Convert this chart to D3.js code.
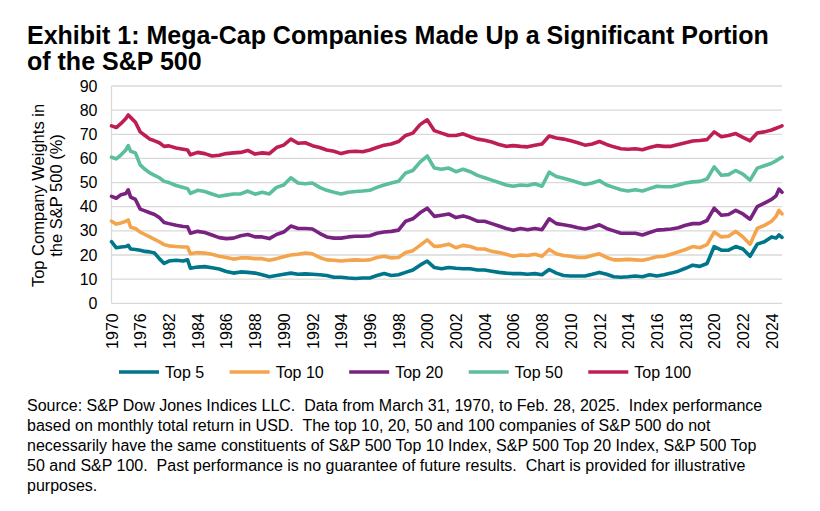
<!DOCTYPE html>
<html>
<head>
<meta charset="utf-8">
<script src="https://cdn.jsdelivr.net/npm/d3@7"></script>
<style>
  html, body { margin: 0; padding: 0; background: #fff; }
  svg { display: block; font-family: "Liberation Sans", Arial, sans-serif; }
</style>
</head>
<body>
<svg id="chart" width="820" height="511"></svg>
<script>
'use strict';

// dates as decimal years (quarterly-ish before 1982, half-year readings after)
var dates = [1970, 1971, 1972, 1973, 1973.5, 1974, 1975, 1976, 1977, 1978, 1979, 1980, 1981, 1982, 1982.5, 1983, 1983.3,
  1983.5, 1984, 1984.5, 1985, 1985.5, 1986, 1986.5, 1987, 1987.5, 1988, 1988.5, 1989, 1989.5, 1990, 1990.5,
  1991, 1991.5, 1992, 1992.5, 1993, 1993.5, 1994, 1994.5, 1995, 1995.5, 1996, 1996.5, 1997, 1997.5,
  1998, 1998.5, 1999, 1999.5, 2000, 2000.5, 2001, 2001.5, 2002, 2002.5, 2003, 2003.5, 2004, 2004.5,
  2005, 2005.5, 2006, 2006.5, 2007, 2007.5, 2008, 2008.5, 2009, 2009.5, 2010, 2010.5, 2011, 2011.5,
  2012, 2012.5, 2013, 2013.5, 2014, 2014.5, 2015, 2015.5, 2016, 2016.5, 2017, 2017.5, 2018, 2018.5,
  2019, 2019.5, 2020, 2020.5, 2021, 2021.5, 2022, 2022.5, 2023, 2023.5, 2024, 2024.5, 2024.83, 2025.17];

var top5 = [25.5, 23, 23.3, 23.5, 24, 22.5, 22.3, 22, 21.5, 21.3, 20.8, 18.5, 16.5, 17.5, 17.8, 17.5, 18,
  14.5, 15, 15.2, 14.7, 14.2, 13.2, 12.5, 13, 12.8, 12.5, 11.8, 11, 11.5, 12, 12.5,
  12, 12.2, 12, 11.8, 11.5, 10.8, 10.8, 10.5, 10.3, 10.5, 10.5, 11.5, 12.3, 11.5,
  11.8, 12.8, 13.8, 15.8, 17.5, 14.8, 14.3, 14.8, 14.5, 14.3, 14.3, 13.8, 13.8, 13.3,
  12.8, 12.5, 12.3, 12.3, 12, 12.3, 11.8, 14, 12.5, 11.5, 11.3, 11.3, 11.3, 12,
  12.8, 12, 11, 10.8, 11, 11.3, 11, 11.8, 11.3, 11.8, 12.5, 13.3, 14.5, 15.8,
  15.3, 16.5, 23.5, 22, 22, 23.5, 22.5, 19.5, 24.5, 25.5, 27.5, 27, 28.3, 27.3];

var top10 = [34, 32.8, 33.3, 34, 34.5, 31.5, 31, 29.5, 28.5, 27.5, 26.5, 25.5, 24.3, 23.8, 23.5, 23.3, 23.3,
  20.5, 21, 20.8, 20.3, 19.5, 19, 18.3, 18.8, 18.8, 18.5, 18.5, 17.8, 18.5, 19.3, 20,
  20.3, 20.8, 20.5, 19, 18, 17.8, 17.5, 17.8, 18, 17.8, 18, 19, 19.5, 18.8,
  19, 21, 21.8, 24, 26.3, 23.5, 23.8, 24.5, 23, 24, 23.5, 22.5, 22.5, 21.5,
  21, 20.3, 19.5, 20, 19.8, 20.3, 19.5, 22.3, 20.5, 19.8, 19.5, 19, 19, 19.8,
  20.5, 19, 18, 18, 18.2, 18, 17.8, 18.5, 19.3, 19.5, 20.3, 21.3, 22.3, 23.5,
  23, 24.3, 29.5, 27.5, 27.8, 29.8, 27.5, 24.5, 31, 32.3, 34, 36, 38.5, 37];

var top20 = [44.3, 43.5, 45, 45.5, 47, 44, 43, 39, 38.3, 37.5, 36.8, 35.5, 33.5, 33, 32.3, 31.8, 31.7,
  29, 29.8, 29.3, 28.3, 27.2, 26.8, 27, 28, 28.5, 27.5, 27.5, 26.8, 28.5, 29.5, 32,
  31, 31, 30.8, 29, 27.5, 27, 27, 27.5, 27.8, 27.8, 28, 29, 29.5, 29.8,
  30.3, 34, 35, 37.5, 39.4, 36, 36.5, 37, 35.5, 36.2, 35.3, 34, 34, 33,
  32, 31, 30.3, 31, 30.5, 31, 30.5, 35, 33, 32.5, 32, 31.3, 30.8, 31.5,
  32.5, 31, 30, 29, 29, 29, 28.3, 29.3, 30.3, 30.5, 30.8, 31.3, 32.3, 33,
  33, 34.3, 39.4, 36.5, 36.8, 38.5, 37, 34.8, 40, 41.5, 43, 44.5, 47.3, 46];

var top50 = [60.5, 59.8, 61.5, 63.5, 65.3, 63, 62.3, 57.3, 55.5, 54, 53, 52, 50.5, 50, 48.8, 48, 47.5,
  45.5, 46.8, 46.3, 45.3, 44.3, 44.8, 45.3, 45.3, 46.5, 45.2, 46, 45.3, 48, 49, 52,
  49.8, 49.5, 49.8, 48, 46.8, 46, 45.3, 46, 46.3, 46.5, 46.8, 48, 49, 49.8,
  50.5, 54, 55, 58.5, 61, 56, 55.5, 56, 54.5, 55.5, 54.5, 53, 52, 51,
  50, 49, 48.5, 49, 48.8, 49.5, 48.5, 54.3, 52.5, 51.8, 51, 50, 49.2, 49.8,
  50.8, 49, 48, 47, 46.5, 47, 46.5, 47.5, 48.5, 48.3, 48.3, 49, 49.8, 50.3,
  50.5, 51.5, 56.5, 53, 53.3, 55, 53.5, 51, 56, 57, 58, 59, 59.8, 60.5];

var top100 = [73.5, 72.8, 74.5, 76.5, 78, 77, 75, 71, 69.5, 68, 67.3, 66.5, 65, 65.2, 64.3, 63.8, 63.5,
  61.5, 62.5, 62, 61, 61.3, 62, 62.3, 62.5, 63.3, 61.8, 62.3, 62, 64.5, 65.5, 68,
  66.3, 66.5, 65.3, 64.5, 63.5, 63, 62, 62.8, 63, 62.8, 63.5, 64.5, 65.5, 66,
  67, 69.5, 70.5, 74, 76, 71.5, 70.5, 69.5, 69.5, 70.2, 69, 68, 67.5, 66.8,
  65.8, 65, 65.3, 65, 64.8, 65.5, 66, 69.3, 68.5, 68, 67.3, 66.5, 65.5, 66,
  67, 65.8, 64.8, 64, 63.8, 64, 63.6, 64.5, 65.3, 65, 65, 65.8, 66.5, 67.2,
  67.4, 67.8, 71, 69, 69.5, 70.3, 68.7, 67.3, 70.5, 71, 71.8, 72.5, 73, 73.5];

var seriesNames = ['Top 5', 'Top 10', 'Top 20', 'Top 50', 'Top 100'];
var seriesColors = ['#00768A', '#F4A44C', '#7A2282', '#5BBE9E', '#BE1E54'];

var yTicks = [0, 10, 20, 30, 40, 50, 60, 70, 80, 90];
var xTickYears = [1970, 1976, 1982, 1984, 1986, 1988, 1990, 1992, 1994, 1996, 1998, 2000,
  2002, 2004, 2006, 2008, 2010, 2012, 2014, 2016, 2018, 2020, 2022, 2024];

var titleLines = ['Exhibit 1: Mega-Cap Companies Made Up a Significant Portion', 'of the S&P 500'];
var yLabelLines = ['Top Company Weights in', 'the S&P 500 (%)'];
var noteLines = [
  'Source: S&P Dow Jones Indices LLC.  Data from March 31, 1970, to Feb. 28, 2025.  Index performance',
  'based on monthly total return in USD.  The top 10, 20, 50 and 100 companies of S&P 500 do not',
  'necessarily have the same constituents of S&P 500 Top 10 Index, S&P 500 Top 20 Index, S&P 500 Top',
  '50 and S&P 100.  Past performance is no guarantee of future results.  Chart is provided for illustrative',
  'purposes.'
];

var svg = d3.select('#chart'),
    plot = {left: 111.5, right: 782, top: 86, bottom: 303.3},
    gridColor = '#D9D9D9';

// category-style axis: 1970-1982 squeezed (quarterly), monthly afterwards
var x = d3.scaleLinear()
  .domain([1970, 1982, 2024, 2025.17])
  .range([plot.left, 168.9, 771.6, plot.right]);
var y = d3.scaleLinear().domain([0, 90]).range([plot.bottom, plot.top]);

// title
svg.append('g').selectAll('text').data(titleLines).enter().append('text')
  .attr('x', 27)
  .attr('y', function (d, i) { return 44 + i * 25.5; })
  .style('font-size', '25px')
  .style('font-weight', 'bold')
  .style('fill', '#000')
  .text(function (d) { return d; });

// gridlines
svg.append('g').selectAll('line').data(yTicks).enter().append('line')
  .attr('x1', plot.left).attr('x2', plot.right)
  .attr('y1', function (d) { return y(d); })
  .attr('y2', function (d) { return y(d); })
  .style('stroke', gridColor)
  .style('stroke-width', 1.3);

svg.append('line')
  .attr('x1', plot.left).attr('x2', plot.left)
  .attr('y1', plot.top).attr('y2', plot.bottom)
  .style('stroke', gridColor)
  .style('stroke-width', 1.3);

// y axis
var yAxis = svg.append('g')
  .attr('transform', 'translate(' + plot.left + ',0)')
  .call(d3.axisLeft(y).tickValues(yTicks).tickSize(0).tickPadding(14));
yAxis.select('.domain').remove();
yAxis.selectAll('text').style('font-size', '16px').style('fill', '#000').style('font-family', 'inherit');

// x axis
var xAxis = svg.append('g')
  .attr('transform', 'translate(0,' + plot.bottom + ')')
  .call(d3.axisBottom(x).tickValues(xTickYears).tickFormat(d3.format('d')).tickSize(0));
xAxis.select('.domain').remove();
xAxis.selectAll('text')
  .attr('transform', 'rotate(-90)')
  .attr('x', -10)
  .attr('y', 0)
  .attr('dy', '0.35em')
  .style('text-anchor', 'end')
  .style('font-size', '16px')
  .style('fill', '#000')
  .style('font-family', 'inherit');

// y axis title
svg.append('g')
  .attr('transform', 'translate(0,195.5) rotate(-90)')
  .selectAll('text').data(yLabelLines).enter().append('text')
  .attr('x', 0)
  .attr('y', function (d, i) { return 43.5 + i * 18.5; })
  .style('text-anchor', 'middle')
  .style('font-size', '16.5px')
  .style('fill', '#000')
  .text(function (d) { return d; });

// series lines
var allSeries = [top5, top10, top20, top50, top100];
var line = d3.line()
  .x(function (d) { return x(d[0]); })
  .y(function (d) { return y(d[1]); });

svg.append('g').selectAll('path').data(allSeries).enter().append('path')
  .attr('d', function (vals) { return line(d3.zip(dates, vals)); })
  .style('fill', 'none')
  .style('stroke', function (d, i) { return seriesColors[i]; })
  .style('stroke-width', 3.6)
  .style('stroke-linejoin', 'round')
  .style('stroke-linecap', 'round');

// legend
var legend = svg.append('g').attr('transform', 'translate(119,372)'),
    lx = 0;
seriesNames.forEach(function (name, i) {
  var item = legend.append('g').attr('transform', 'translate(' + lx + ',0)');
  item.append('line')
    .attr('x1', 0).attr('x2', 40).attr('y1', 0).attr('y2', 0)
    .style('stroke', seriesColors[i])
    .style('stroke-width', 3.6);
  var t = item.append('text')
    .attr('x', 46).attr('y', 5.8)
    .style('font-size', '16px')
    .style('fill', '#000')
    .text(name);
  lx += 46 + t.node().getComputedTextLength() + 25.5;
});

// footnote
svg.append('g').selectAll('text').data(noteLines).enter().append('text')
  .attr('x', 27)
  .attr('y', function (d, i) { return 411 + i * 20; })
  .style('font-size', '16px')
  .style('fill', '#000')
  .style('white-space', 'pre')
  .text(function (d) { return d; });
</script>
</body>
</html>
